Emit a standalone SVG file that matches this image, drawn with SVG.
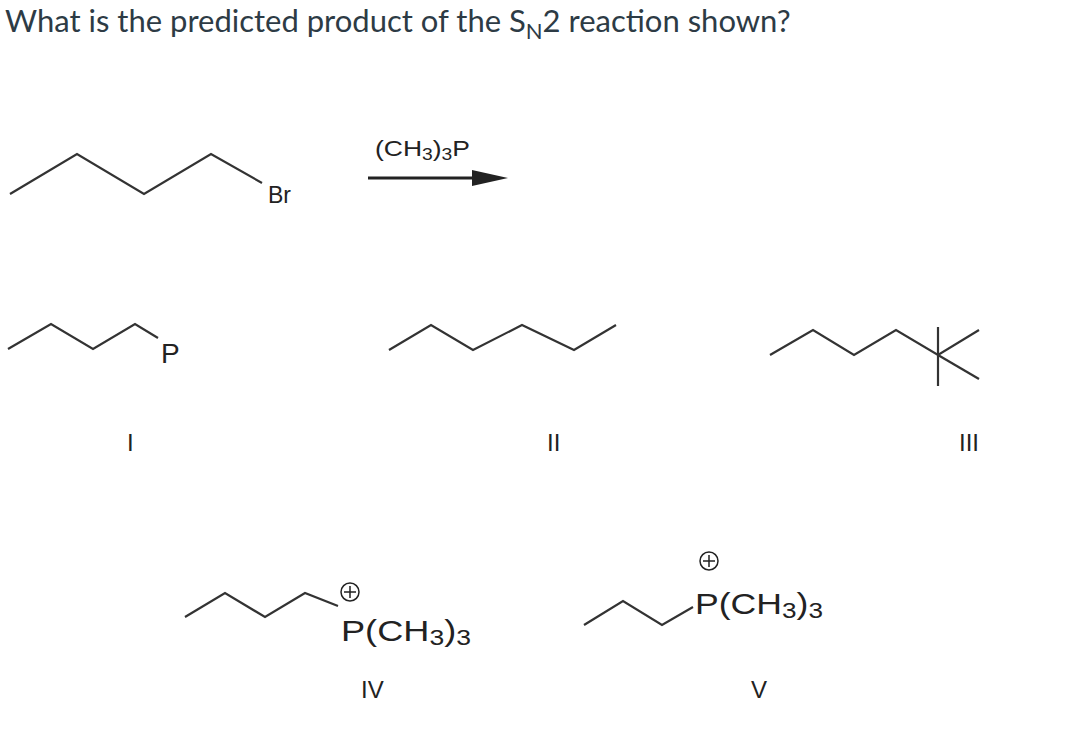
<svg xmlns="http://www.w3.org/2000/svg" width="1081" height="737" viewBox="0 0 1081 737">
<defs>
<style>
.b{fill:none;stroke:#333;stroke-width:2.2;stroke-linejoin:miter}
.t{font-family:"Liberation Sans",Arial,sans-serif;fill:#222}
.q{font-family:Lato,"Open Sans",sans-serif;fill:#2d3b45}
</style>
</defs>
<rect width="1081" height="737" fill="#fff"/>
<text class="q" x="5" y="32" font-size="31">What is the predicted product of the S<tspan font-size="22" dy="7">N</tspan><tspan dy="-7">2 reaction shown?</tspan></text>
<g id="reactant">
<polyline class="b" points="10,194 77,154 144,194 211,154 262,183"/>
<text class="t" x="268" y="203" font-size="23">Br</text>
</g>
<g id="connectors">
<line x1="368" y1="178" x2="475" y2="178" stroke="#222" stroke-width="3"/>
<path d="M472,170L508,178L472,186z" fill="#222"/>
</g>
<text class="t" x="375" y="156" font-size="22" textLength="95" lengthAdjust="spacingAndGlyphs">(CH<tspan font-size="16" dy="4">3</tspan><tspan dy="-4">)</tspan><tspan font-size="16" dy="4">3</tspan><tspan dy="-4">P</tspan></text>
<g id="I">
<polyline class="b" points="8,349 51,324 93,349 135,324 158,338"/>
<text class="t" x="161" y="363" font-size="28">P</text>
<text class="t" x="127" y="451" font-size="24">I</text>
</g>
<g id="II">
<polyline class="b" points="389,350 431,325 473,350 522,325 574,350 616,325"/>
<text class="t" x="547" y="451" font-size="24">II</text>
</g>
<g id="III">
<polyline class="b" points="770,355 813,330 854,355 896,330 938,355 979,330"/>
<line class="b" x1="938" y1="355" x2="979" y2="379"/>
<line class="b" x1="938" y1="327" x2="938" y2="386"/>
<text class="t" x="959" y="451" font-size="24">III</text>
</g>
<g id="IV">
<polyline class="b" points="185,617 225,593 265,617 305,593 338,606"/>
<circle cx="350" cy="592" r="9" fill="none" stroke="#222" stroke-width="1.5"/>
<path d="M344,592h12M350,586v12" stroke="#222" stroke-width="1.5"/>
<text class="t" x="341" y="641" font-size="30" textLength="130" lengthAdjust="spacingAndGlyphs">P(CH<tspan font-size="22" dy="4">3</tspan><tspan dy="-4">)</tspan><tspan font-size="22" dy="4">3</tspan></text>
<text class="t" x="361" y="698" font-size="24">IV</text>
</g>
<g id="V">
<polyline class="b" points="584,625 623,601 662,625 693,607"/>
<circle cx="709" cy="561" r="9" fill="none" stroke="#222" stroke-width="1.5"/>
<path d="M703,561h12M709,555v12" stroke="#222" stroke-width="1.5"/>
<text class="t" x="695" y="614" font-size="30" textLength="128" lengthAdjust="spacingAndGlyphs">P(CH<tspan font-size="22" dy="4">3</tspan><tspan dy="-4">)</tspan><tspan font-size="22" dy="4">3</tspan></text>
<text class="t" x="751" y="698" font-size="24">V</text>
</g>
</svg>
